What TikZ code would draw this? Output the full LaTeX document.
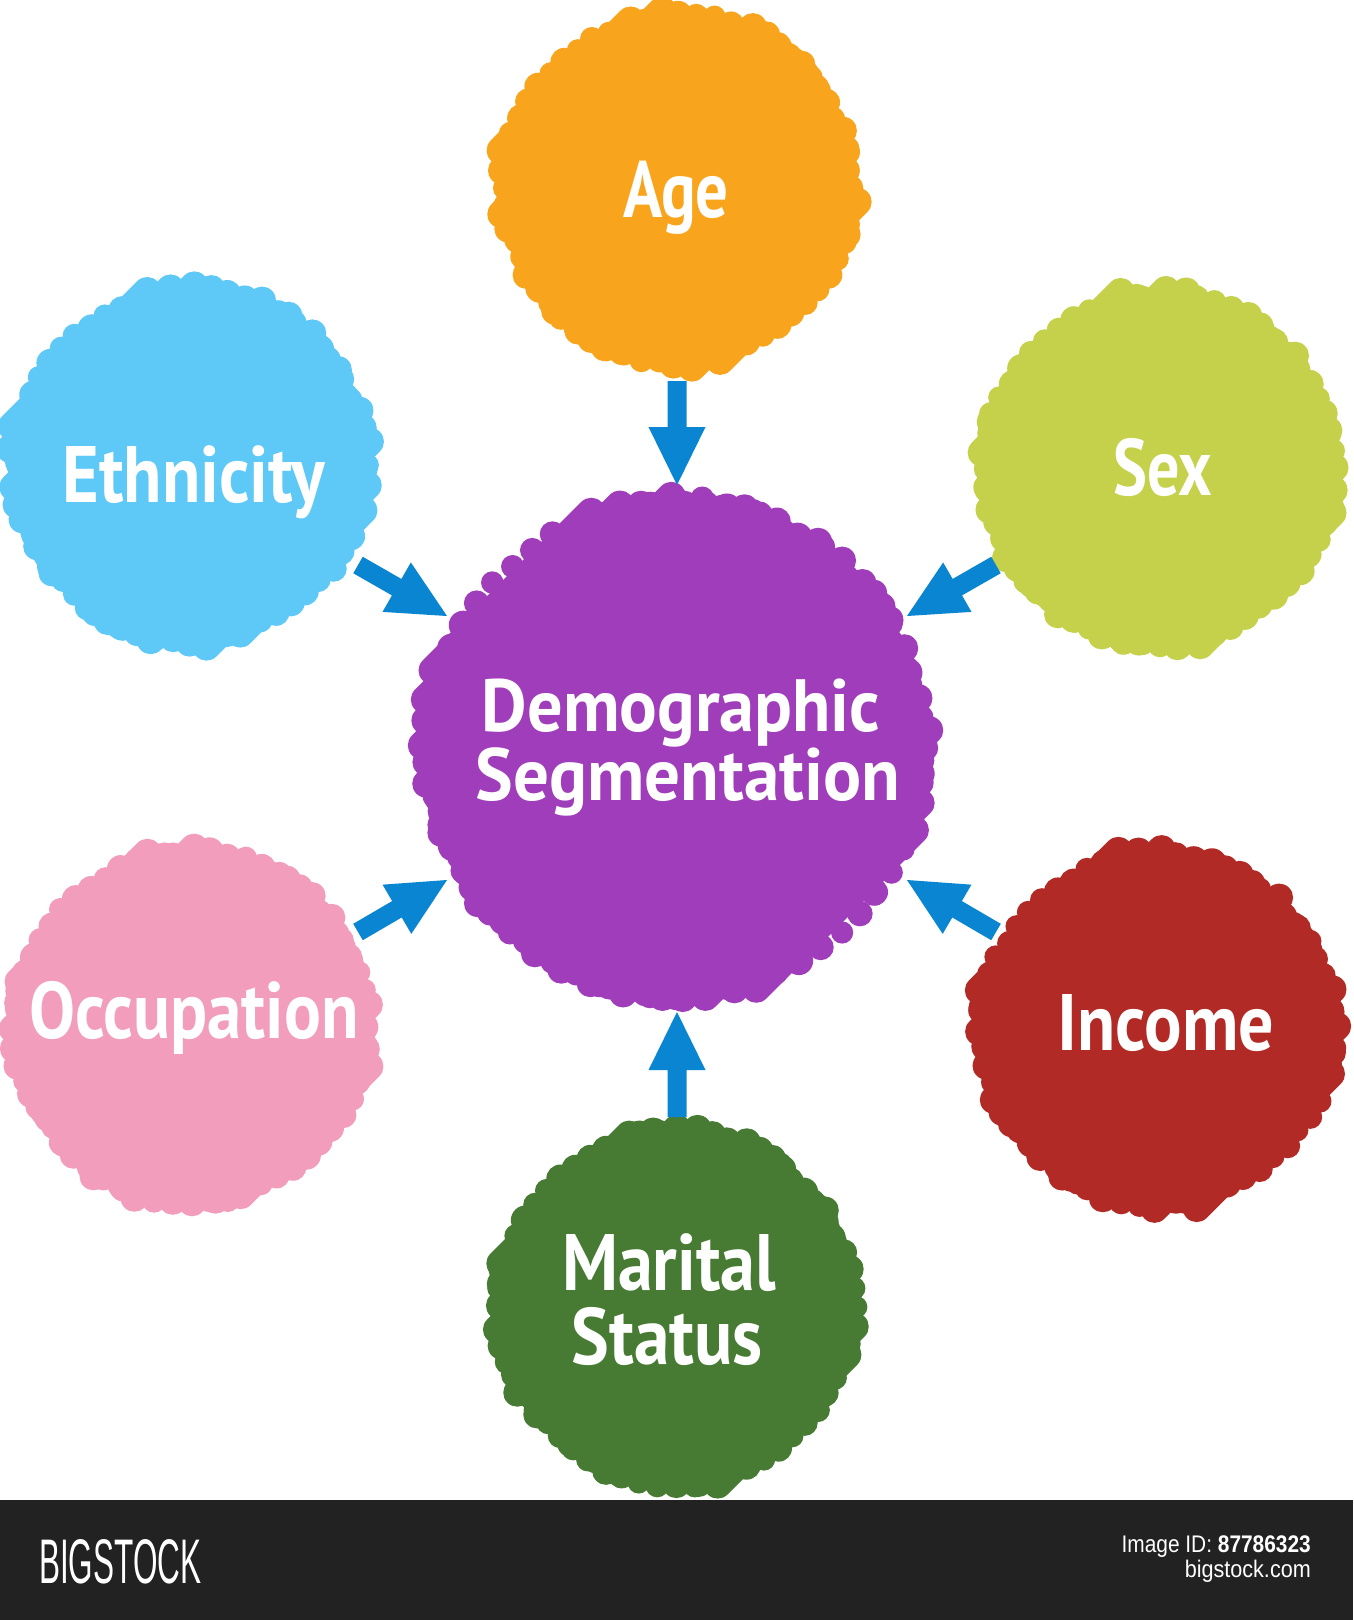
\documentclass[tikz,border=0pt]{standalone}
\usepackage{fontspec}
\usetikzlibrary{arrows.meta,calc}
\newfontfamily\lblfont{PT Sans}
\newfontfamily\bannerfont{Liberation Sans}
\definecolor{cAge}{HTML}{F8A51D}
\definecolor{cEth}{HTML}{5EC8F7}
\definecolor{cSex}{HTML}{C5D14B}
\definecolor{cDemo}{HTML}{A03DBA}
\definecolor{cOcc}{HTML}{F29DBB}
\definecolor{cInc}{HTML}{B22A25}
\definecolor{cMar}{HTML}{477B34}
\definecolor{cArrow}{HTML}{0A85D1}
\definecolor{cBanner}{HTML}{222222}
% scribbled blob: scalloped rim plus diagonal strokes with round ends
\newcommand\myblob[5]{% x y R color seed
  \pgfmathsetseed{#5}
  \begin{scope}[shift={(#1,#2)}]
  \fill[#4] (0,0) circle[radius=#3-22];
  \foreach \a in {0,6,...,354}{
    \pgfmathsetmacro\rb{11+4*rnd}
    \pgfmathsetmacro\rr{#3-\rb-5*rnd+2*sin(4*\a+#5)}
    \fill[#4] (\a:\rr) circle[radius=\rb];
  }
  \pgfmathtruncatemacro\N{round(2*(#3-35)/15)}
  \foreach \k in {0,...,\N}{
    \pgfmathsetmacro\d{-(#3-35)+\k*2*(#3-35)/\N}
    \pgfmathsetmacro\q{\d/#3}
    \pgfmathsetmacro\L{#3*sqrt(1-\q*\q)}
    \pgfmathsetmacro\La{max(\L-10-16*rnd,0)}
    \pgfmathsetmacro\Lb{max(\L-10-16*rnd,0)}
    \draw[#4, line width=28pt, line cap=round]
      ({0.7071*(\d-\La)},{0.7071*(\d+\La)}) -- ({0.7071*(\d+\Lb)},{0.7071*(\d-\Lb)});
  }
  \end{scope}
}
\newcommand\blockarr[2]{% start, tip
  \coordinate (hb) at ($(#2)!58pt!(#1)$);
  \fill[cArrow] ($(#1)!9.5pt!90:(#2)$) -- ($(hb)!9.5pt!90:(#2)$) -- ($(hb)!28.5pt!90:(#2)$)
     -- (#2) -- ($(hb)!28.5pt!-90:(#2)$) -- ($(hb)!9.5pt!-90:(#2)$) -- ($(#1)!9.5pt!-90:(#2)$) -- cycle;
}
\newcommand\hs[2]{\scalebox{#1}[1]{#2}}
\begin{document}
\begin{tikzpicture}[x=1pt,y=-1pt,
  lbl/.style={text=white, font=\lblfont\bfseries\fontsize{80}{82}\selectfont, inner sep=0pt, anchor=base},
  lblc/.style={text=white, font=\lblfont\bfseries\fontsize{74}{76}\selectfont, inner sep=0pt, anchor=base},
  blobnode/.style={circle, inner sep=0pt, draw=none}]
\useasboundingbox (0,0) rectangle (1353,1620);
\fill[white] (0,0) rectangle (1353,1620);

% blobs
\myblob{678}{188}{187}{cAge}{11}
\myblob{191}{465}{189}{cEth}{23}
\myblob{1160}{469}{188}{cSex}{37}
\myblob{676}{748}{262}{cDemo}{41}
\myblob{191}{1027}{189}{cOcc}{53}
\myblob{1158}{1029}{189}{cInc}{67}
\myblob{676}{1307}{190}{cMar}{79}

\node[blobnode, minimum size=374pt] (age) at (678,188) {};
\node[blobnode, minimum size=378pt] (eth) at (191,465) {};
\node[blobnode, minimum size=376pt] (sex) at (1160,469) {};
\node[blobnode, minimum size=524pt] (demo) at (676,748) {};
\node[blobnode, minimum size=378pt] (occ) at (191,1027) {};
\node[blobnode, minimum size=378pt] (inc) at (1158,1029) {};
\node[blobnode, minimum size=380pt] (mar) at (676,1307) {};

% labels
\node[lbl] (tage) at (676,217) {\hs{0.81}{Age}};
\node[lbl] (teth) at (194,502) {\hs{0.88}{Ethnicity}};
\node[lbl] (tsex) at (1163,495) {\hs{0.80}{Sex}};
\node[lblc, text depth=0pt] (tdemo1) at (681,731) {\hs{0.95}{Demographic}};
\node[lblc] (tdemo2) at (688,800) {\hs{0.96}{Segmentation}};
\node[lbl] (tocc) at (194,1038) {\hs{0.86}{Occupation}};
\node[lbl] (tinc) at (1166,1050) {\hs{0.875}{Income}};
\node[lbl, text depth=0pt] (tmar1) at (669,1290) {\hs{0.875}{Marital}};
\node[lbl] (tmar2) at (667,1364) {\hs{0.89}{Status}};

% arrows
\coordinate (aAs) at (677,381);  \coordinate (aAt) at (677,485);
\coordinate (aMs) at (677,1117); \coordinate (aMt) at (677,1012);
\coordinate (aEs) at (358,565);  \coordinate (aEt) at (447,616);
\coordinate (aSs) at (996,565);  \coordinate (aSt) at (907,616);
\coordinate (aOs) at (358,932);  \coordinate (aOt) at (447,880);
\coordinate (aIs) at (996,932);  \coordinate (aIt) at (907,880);
\blockarr{aAs}{aAt}
\blockarr{aMs}{aMt}
\blockarr{aEs}{aEt}
\blockarr{aSs}{aSt}
\blockarr{aOs}{aOt}
\blockarr{aIs}{aIt}

% banner
\fill[cBanner] (0,1500) rectangle (1353,1620);
\node[anchor=base west, text=white, inner sep=0pt, font=\bannerfont\fontsize{63}{63}\selectfont] (brand) at (39,1583) {\hs{0.5}{BIGSTOCK}};
\node[anchor=base east, text=white, inner sep=0pt, font=\bannerfont\fontsize{24}{24}\selectfont] (imgid) at (1311,1552) {\hs{0.87}{Image ID: \textbf{87786323}}};
\node[anchor=base east, text=white, inner sep=0pt, font=\bannerfont\fontsize{24}{24}\selectfont] (site) at (1311,1577) {\hs{0.9}{bigstock.com}};
\end{tikzpicture}
\end{document}
